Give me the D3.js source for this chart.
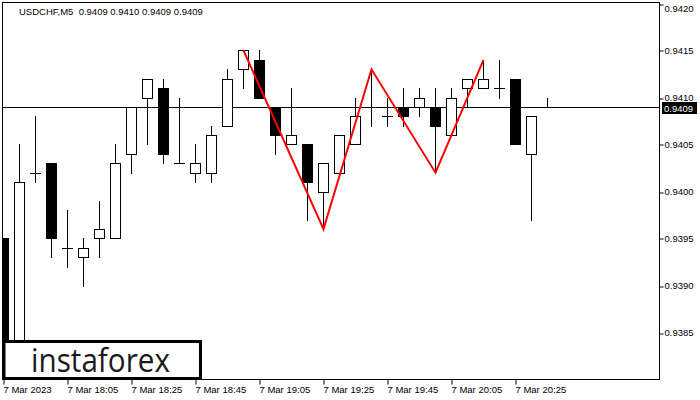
<!DOCTYPE html>
<html>
<head>
<meta charset="utf-8">
<script src="https://cdn.jsdelivr.net/npm/d3@7/dist/d3.min.js"></script>
<style>
  html, body { margin: 0; padding: 0; background: #fff; }
  svg { display: block; }
  text { font-family: "Liberation Sans", Arial, sans-serif; }
</style>
</head>
<body>
<svg id="chart" width="700" height="400"></svg>
<script>
const times = ["17:45","17:50","17:55","18:00","18:05","18:10","18:15","18:20","18:25","18:30",
  "18:35","18:40","18:45","18:50","18:55","19:00","19:05","19:10","19:15","19:20",
  "19:25","19:30","19:35","19:40","19:45","19:50","19:55","20:00","20:05","20:10",
  "20:15","20:20","20:25","20:30","20:35"];
const opens  = [0.9395,0.9383,0.9402,0.9403,0.9394,0.9393,0.9395,0.9395,0.9404,0.9410,
  0.9411,0.9403,0.9402,0.9402,0.9407,0.9413,0.9414,0.9409,0.9405,0.9405,
  0.9400,0.9402,0.9405,0.9409,0.9408,0.9409,0.9409,0.9409,0.9406,0.9411,
  0.9411,0.9411,0.9412,0.9404,0.9409];
const highs  = [0.9395,0.9405,0.9408,0.9403,0.9398,0.9395,0.9399,0.9405,0.9409,0.9412,
  0.9412,0.9410,0.9405,0.9407,0.9413,0.9415,0.9415,0.9409,0.9411,0.9405,
  0.9403,0.9406,0.9410,0.9413,0.9410,0.9411,0.9411,0.9411,0.9411,0.9412,
  0.9414,0.9414,0.9412,0.9408,0.9410];
const lows   = [0.9381,0.9381,0.9401,0.9393,0.9392,0.9390,0.9393,0.9395,0.9402,0.9405,
  0.9403,0.9403,0.9401,0.9401,0.9407,0.9411,0.9410,0.9404,0.9405,0.9397,
  0.9396,0.9402,0.9405,0.9407,0.9407,0.9407,0.9408,0.9402,0.9406,0.9409,
  0.9411,0.9410,0.9405,0.9397,0.9409];
const closes = [0.9383,0.9401,0.9402,0.9395,0.9394,0.9394,0.9396,0.9403,0.9409,0.9412,
  0.9404,0.9403,0.9403,0.9406,0.9412,0.9415,0.9410,0.9406,0.9406,0.9401,
  0.9403,0.9406,0.9408,0.9409,0.9408,0.9408,0.9410,0.9407,0.9410,0.9412,
  0.9412,0.9411,0.9405,0.9408,0.9409];

// Pattern (red zig-zag)
const patternTimes  = ["19:00","19:25","19:40","20:00","20:15"];
const patternPrices = [0.9415,0.9396,0.9413,0.9402,0.9414];

const priceTicks = [0.9420,0.9415,0.9410,0.9405,0.9400,0.9395,0.9390,0.9385];
const timeTicks  = ["17:45","18:05","18:25","18:45","19:05","19:25","19:45","20:05","20:25"];
const timeTickLabels = ["7 Mar 2023","7 Mar 18:05","7 Mar 18:25","7 Mar 18:45","7 Mar 19:05",
  "7 Mar 19:25","7 Mar 19:45","7 Mar 20:05","7 Mar 20:25"];
const symbol = "USDCHF,M5";
const lastBar = ["0.9409","0.9410","0.9409","0.9409"];
const currentPrice = 0.9409;

const svg = d3.select("#chart");
const L = 2.5, T = 2.5, R = 659.5, B = 379.5;

const x = d3.scalePoint().domain(times).range([3, 547]);
const y = d3.scaleLinear().domain([0.9385, 0.9420]).range([332.5, 3.5]);
const py = v => Math.round(y(v));

svg.append("defs").append("clipPath").attr("id","plot")
  .append("rect").attr("x", 3).attr("y", 3).attr("width", R - 3).attr("height", B - 3);

const plot = svg.append("g").attr("clip-path","url(#plot)");

// current price line
plot.append("line")
  .attr("x1", 0).attr("x2", R)
  .attr("y1", py(currentPrice) + 0.5).attr("y2", py(currentPrice) + 0.5)
  .attr("stroke", "#000").attr("stroke-width", 1);

const bars = times.map((t, i) => ({t, o: opens[i], h: highs[i], l: lows[i], c: closes[i]}));

const g = plot.selectAll("g.bar").data(bars).join("g").attr("class","bar");
g.append("line")
  .attr("x1", d => x(d.t) + 0.5).attr("x2", d => x(d.t) + 0.5)
  .attr("y1", d => py(d.h)).attr("y2", d => py(d.l) + 1)
  .attr("stroke", "#000").attr("stroke-width", 1);
g.each(function(d) {
  const sel = d3.select(this);
  const cx = x(d.t);
  const top = py(Math.max(d.o, d.c)), bot = py(Math.min(d.o, d.c));
  if (d.o === d.c) {
    sel.append("line")
      .attr("x1", cx - 5).attr("x2", cx + 6)
      .attr("y1", top + 0.5).attr("y2", top + 0.5)
      .attr("stroke", "#000").attr("stroke-width", 1);
  } else {
    sel.append("rect")
      .attr("x", cx - 4.5).attr("y", top + 0.5)
      .attr("width", 10).attr("height", bot - top)
      .attr("fill", d.c > d.o ? "#fff" : "#000")
      .attr("stroke", "#000").attr("stroke-width", 1);
  }
});

// red pattern line
plot.append("path")
  .datum(patternTimes.map((t, i) => [x(t) + 0.5, y(patternPrices[i])]))
  .attr("d", d3.line())
  .attr("fill", "none").attr("stroke", "#ff0000").attr("stroke-width", 2)
  .attr("stroke-linejoin", "miter");

// frame
svg.append("rect").attr("x", L).attr("y", T).attr("width", R - L).attr("height", B - L)
  .attr("fill", "none").attr("stroke", "#000").attr("stroke-width", 1);

// right price axis
const yAxis = svg.append("g").attr("transform", `translate(${R},0)`)
  .call(d3.axisRight(y).tickValues(priceTicks).tickSize(4).tickPadding(1).tickFormat(d3.format(".4f")));
yAxis.select(".domain").remove();
yAxis.selectAll(".tick line").attr("stroke", "#000")
  .attr("transform", d => `translate(0,${py(d) + 0.5 - y(d)})`);
yAxis.selectAll(".tick text")
  .attr("fill", "#000").style("font-size", "9.5px")
  .attr("dy", d => d === 0.9420 ? "0.85em" : "0.34em");

// current price tag
const cpY = py(currentPrice);
svg.append("rect").attr("x", 662).attr("y", cpY - 5).attr("width", 35).attr("height", 12).attr("fill", "#000");
svg.append("text").attr("x", 664).attr("y", cpY + 4.5)
  .attr("fill", "#fff").style("font-size", "9.5px").text(d3.format(".4f")(currentPrice));

// bottom time axis
const xAxis = svg.append("g").attr("transform", `translate(0,${B})`)
  .call(d3.axisBottom(x).tickValues(timeTicks).tickSize(5).tickPadding(2)
    .tickFormat((d) => timeTickLabels[timeTicks.indexOf(d)]));
xAxis.select(".domain").remove();
xAxis.selectAll(".tick line").attr("stroke", "#000").attr("transform", "translate(0.5,0)");
xAxis.selectAll(".tick text").attr("fill", "#000").style("font-size", "9.5px")
  .attr("text-anchor", "start").attr("x", 0);

// title
svg.append("text").attr("x", 19).attr("y", 14.5).attr("fill", "#000")
  .style("font-size", "9.5px").attr("xml:space", "preserve")
  .text(symbol + "  " + lastBar.join(" "));

// logo box
svg.append("rect").attr("x", 4).attr("y", 341.5).attr("width", 196.5).attr("height", 37)
  .attr("fill", "#fff").attr("stroke", "#000").attr("stroke-width", 3);
svg.append("text").attr("x", 31).attr("y", 372)
  .attr("fill", "#1a1a1a")
  .style("font-family", "'Open Sans', 'Noto Sans', sans-serif")
  .style("font-size", "33px")
  .attr("textLength", 139).attr("lengthAdjust", "spacingAndGlyphs")
  .text("instaforex");
</script>
</body>
</html>
